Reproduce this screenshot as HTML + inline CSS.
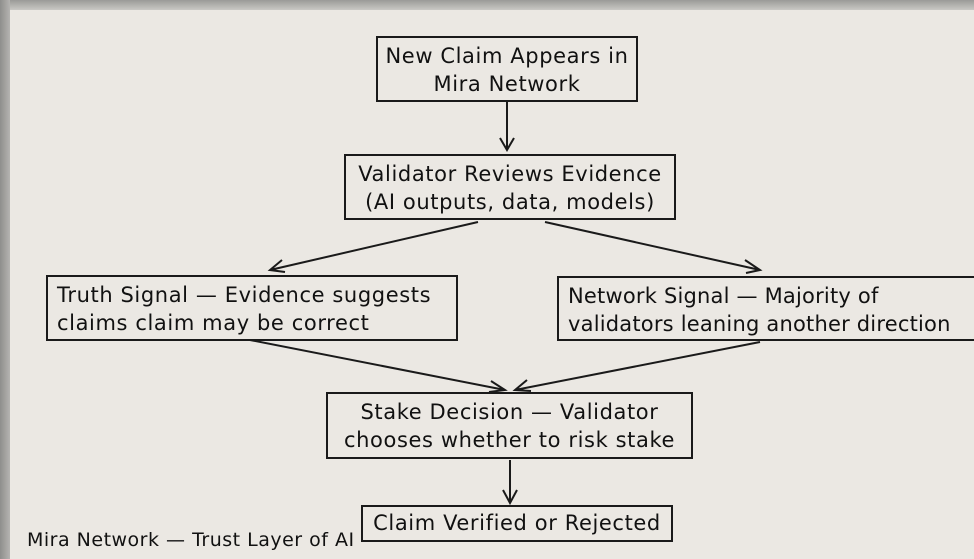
<!DOCTYPE html>
<html><head><style>
body{margin:0;width:974px;height:559px;overflow:hidden;background:#ebe8e3;position:relative;font-family:"Comic Sans MS","DejaVu Sans","Liberation Sans",sans-serif;}
.top{position:absolute;left:0;top:0;width:974px;height:10px;background:linear-gradient(#9a9a97,#c9c8c4);}
.left{position:absolute;left:0;top:0;width:10px;height:559px;background:linear-gradient(90deg,#8e8e8c,#b5b4b1);}
.b{position:absolute;border:2px solid #1a1a1a;box-sizing:border-box;font-size:21px;letter-spacing:0.6px;line-height:28px;color:#111;text-align:center;padding-top:4px;white-space:nowrap;}
.l{text-align:left;padding-left:9px;}
.f{position:absolute;left:27px;top:529px;font-size:19px;letter-spacing:0.5px;color:#111;white-space:nowrap;}
</style></head><body>
<div class="top"></div><div class="left"></div>
<svg width="974" height="559" style="position:absolute;left:0;top:0" fill="none" stroke="#1a1a1a" stroke-width="2">
<path d="M507 101V150M500 138L507 150L514 138"/>
<path d="M478 222L270 270M282 260L270 270L285 272"/>
<path d="M545 222L760 270M745 260L760 270L746 273"/>
<path d="M250 340L505 390M491 381L505 390L489 392"/>
<path d="M760 342L515 390M527 380L515 390L531 391"/>
<path d="M510 460V503M503 490L510 503L517 490"/>
</svg>
<div class="b" style="left:376px;top:36px;width:262px;height:66px">New Claim Appears in<br>Mira Network</div>
<div class="b" style="left:344px;top:154px;width:332px;height:66px">Validator Reviews Evidence<br>(AI outputs, data, models)</div>
<div class="b l" style="left:46px;top:275px;width:412px;height:66px">Truth Signal — Evidence suggests<br>claims claim may be correct</div>
<div class="b l" style="left:557px;top:276px;width:420px;height:65px;letter-spacing:0.2px">Network Signal — Majority of<br>validators leaning another direction</div>
<div class="b" style="left:326px;top:392px;width:367px;height:67px">Stake Decision — Validator<br>chooses whether to risk stake</div>
<div class="b" style="left:361px;top:505px;width:312px;height:37px;padding-top:2px">Claim Verified or Rejected</div>
<div class="f">Mira Network — Trust Layer of AI</div>
</body></html>
